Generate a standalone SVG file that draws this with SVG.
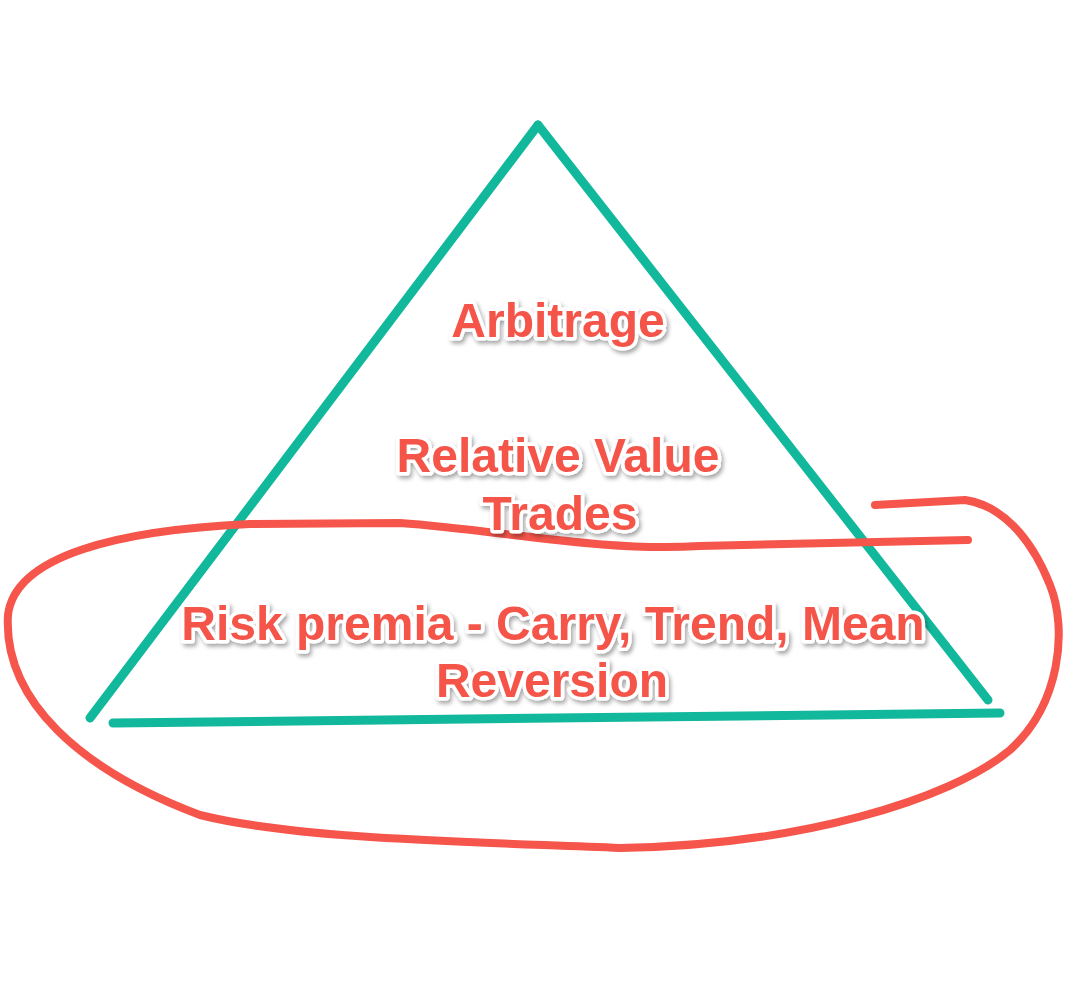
<svg xmlns="http://www.w3.org/2000/svg" width="1070" height="1000" viewBox="0 0 1070 1000">
<defs>
<style>
.t{font-family:"Liberation Sans",Arial,sans-serif;font-weight:bold;font-size:48px;fill:#f5554a;stroke:#fff;stroke-width:7;paint-order:stroke;stroke-linejoin:round;text-anchor:middle;filter:url(#sh)}
.tri{stroke:#12b89c;stroke-width:9;stroke-linecap:round;fill:none}
.red{stroke:#f5554a;stroke-width:8;fill:none;stroke-linecap:round;stroke-linejoin:round}
</style>
<filter id="sh" x="-10%" y="-30%" width="120%" height="160%"><feDropShadow dx="2" dy="3" stdDeviation="2" flood-color="#000" flood-opacity="0.35"/></filter>
</defs>
<rect width="1070" height="1000" fill="#fff"/>
<g id="triangle">
<line class="tri" x1="90" y1="718" x2="538" y2="125"/>
<line class="tri" x1="538" y1="125" x2="988" y2="700"/>
<line class="tri" x1="113" y1="723" x2="1000" y2="713"/>
</g>
<g id="loop">
<path class="red" d="M968,540 L700,546 C600,552 500,530 400,523 L250,524 C120,530 15,555 8,615 C3,700 80,770 200,815 C300,840 480,842 620,848 C800,845 950,800 1010,750 C1060,705 1068,630 1050,585 C1030,535 1000,505 965,500 L875,505"/>
</g>
<g id="labels">
<text class="t" x="558" y="337">Arbitrage</text>
<text class="t" x="558" y="472">Relative Value</text>
<text class="t" x="560" y="530">Trades</text>
<text class="t" x="553" y="640">Risk premia - Carry, Trend, Mean</text>
<text class="t" x="552" y="697">Reversion</text>
</g>
</svg>
